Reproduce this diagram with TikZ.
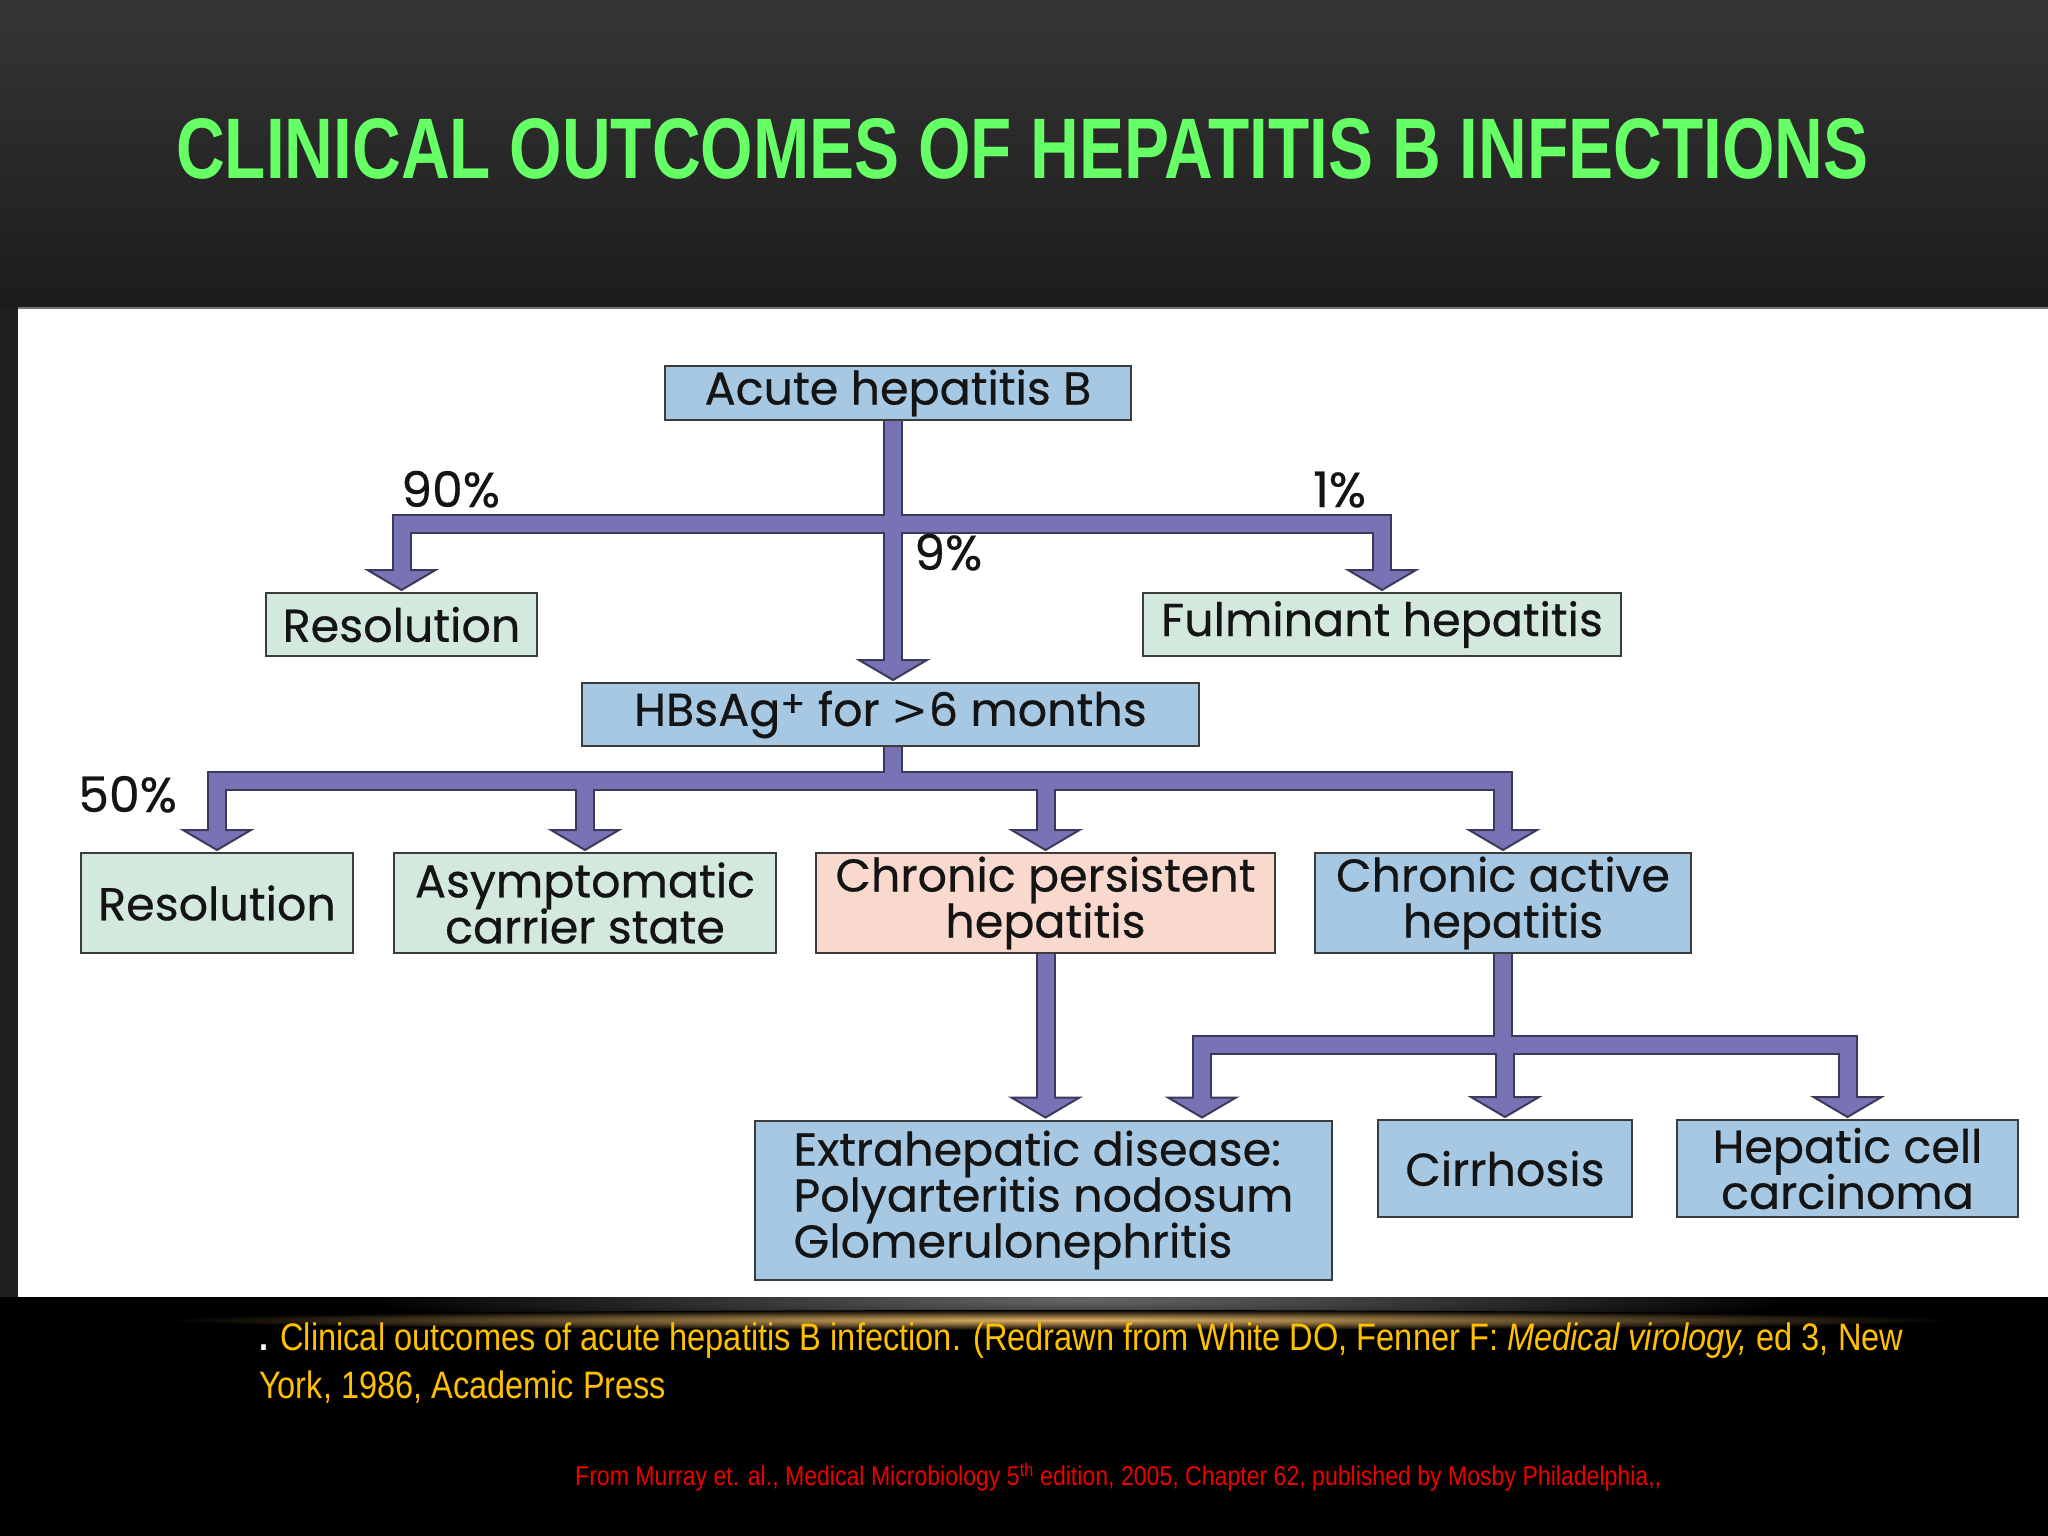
\documentclass[tikz,border=0pt]{standalone}
\usepackage{fontspec}
\usepackage{graphicx}
\usetikzlibrary{calc}
\newfontfamily\diagfont[FakeBold=0.5]{Poppins}
\newfontfamily\gtfont{DejaVu Sans}
\newfontfamily\narrowfont[FakeStretch=0.85]{Liberation Sans}
\newcommand\tightlines{\lineskiplimit -60pt\relax}
\definecolor{boxblue}{HTML}{A6C8E3}
\definecolor{boxgreen}{HTML}{D3E9DE}
\definecolor{boxpeach}{HTML}{F9D9CD}
\definecolor{boxline}{HTML}{3C3C3C}
\definecolor{flowfill}{HTML}{7873B5}
\definecolor{flowline}{HTML}{3B3A5C}
\definecolor{titlegreen}{HTML}{66FF66}
\definecolor{captiongold}{HTML}{FFC000}
\definecolor{creditred}{HTML}{EE0000}
\tikzset{
  diagbox/.style={draw=boxline, line width=2pt, inner sep=0pt, align=center,
    text=black!92, font=\diagfont\fontsize{46}{46}\selectfont\tightlines},
  bluebox/.style={diagbox, fill=boxblue},
  greenbox/.style={diagbox, fill=boxgreen},
  peachbox/.style={diagbox, fill=boxpeach},
  pctlabel/.style={anchor=base west, inner sep=0pt, text=black!92,
    font=\diagfont\fontsize{49}{44}\selectfont},
  outerpen/.style={draw=flowline, line width=20pt, line join=miter, line cap=butt},
  innerpen/.style={draw=flowfill, line width=16pt, line join=miter, line cap=butt},
  headsty/.style={fill=flowfill, draw=flowline, line width=2pt, line join=miter}
}
\newcommand\headat[1]{\filldraw[headsty] ($(#1)+(0,-2)$) -- ++(-34,-20) -- ++(68,0) -- cycle;}
\newcommand\flows[1]{%
  \draw[#1] (acute.south -| t1) -- ($(hbsin)+(0,-20)$);
  \draw[#1] ($(res1.north)+(0,-20)$) -- (res1.north |- t1) -- (ful.north |- t1) -- ($(ful.north)+(0,-20)$);
  \draw[#1] (hbs.south -| t1) -- (t2);
  \draw[#1] ($(res2.north)+(0,-20)$) -- (res2.north |- t2) -- (cah.north |- t2) -- ($(cah.north)+(0,-20)$);
  \draw[#1] (asy.north |- t2) -- ($(asy.north)+(0,-20)$);
  \draw[#1] (cph.north |- t2) -- ($(cph.north)+(0,-20)$);
  \draw[#1] (cph.south) -- ($(extin)+(0,-20)$);
  \draw[#1] (cah.south) -- (t3);
  \draw[#1] ($(extin2)+(0,-20)$) -- (e2) -- (hcc.north |- t3) -- ($(hcc.north)+(0,-20)$);
  \draw[#1] (cir.north |- t3) -- ($(cir.north)+(0,-20)$);
}
\begin{document}
\begin{tikzpicture}[x=1pt,y=-1pt]
\useasboundingbox (0,0) rectangle (2048,1536);
% backgrounds
\fill[black] (0,0) rectangle (2048,1536);
\fill[black!88] (0,308) rectangle (18,1297);
\shade[inner color=black!60, outer color=black] (1080,1300) ellipse (720 and 30);
\shade[inner color={rgb,255:red,225;green,178;blue,100}, outer color=black] (1060,1320) ellipse (900 and 10);
\shade[top color=black!79, bottom color=black!89] (0,0) rectangle (2048,308);
\fill[white] (18,308) rectangle (2048,1297);
\draw[black!55, line width=1.5pt] (18,308) -- (2048,308);

% title
\node[anchor=base west, inner sep=0pt, text=titlegreen] (title) at (176,178)
  {\resizebox{1692pt}{60pt}{\narrowfont\bfseries CLINICAL OUTCOMES OF HEPATITIS B INFECTIONS}};

% boxes
\node[bluebox, minimum width=466pt, minimum height=54pt] (acute) at (898,393) {Acute hepatitis B};
\node[greenbox, minimum width=271pt, minimum height=63pt] (res1) at (401.5,624.5) {Resolution};
\node[greenbox, minimum width=478pt, minimum height=63pt] (ful) at (1382,624.5) {Fulminant hepatitis};
\node[bluebox, minimum width=617pt, minimum height=63pt] (hbs) at (890.5,714.5) {HBsAg{\fontsize{52}{44}\selectfont\textsuperscript{+}} for {\gtfont\fontsize{44}{44}\selectfont >}6 months};
\node[greenbox, minimum width=272pt, minimum height=100pt] (res2) at (217,903) {Resolution};
\node[greenbox, minimum width=382pt, minimum height=100pt] (asy) at (585,903) {Asymptomatic\\carrier state};
\node[peachbox, minimum width=459pt, minimum height=100pt] (cph) at (1045.5,903) {Chronic persistent\\hepatitis};
\node[bluebox, minimum width=376pt, minimum height=100pt] (cah) at (1503,903) {Chronic active\\hepatitis};
\node[bluebox, minimum width=577pt, minimum height=159pt, align=left] (ext) at (1043.5,1200)
  {Extrahepatic disease:\\Polyarteritis nodosum\\Glomerulonephritis};
\node[bluebox, minimum width=254pt, minimum height=97pt] (cir) at (1505,1168.5) {Cirrhosis};
\node[bluebox, minimum width=341pt, minimum height=97pt] (hcc) at (1847.5,1168.5) {Hepatic cell\\carcinoma};

% junction coordinates
\coordinate (t1) at (893,524);
\coordinate (hbsin) at (t1 |- hbs.north);
\coordinate (t2) at (893,781);
\coordinate (extin) at (cph.south |- ext.north);
\coordinate (t3) at (1503,1045);
\coordinate (e2) at (1202,1045);
\coordinate (extin2) at (e2 |- ext.north);

% connectors
\flows{outerpen}
\headat{hbsin}
\headat{res1.north}
\headat{ful.north}
\headat{res2.north}
\headat{asy.north}
\headat{cph.north}
\headat{cah.north}
\headat{extin}
\headat{extin2}
\headat{cir.north}
\headat{hcc.north}
\flows{innerpen}

% percentages
\node[pctlabel] (p90) at (401,507) {90\%};
\node[pctlabel] (p1) at (1313,507) {1\%};
\node[pctlabel] (p9) at (914,570) {9\%};
\node[pctlabel] (p50) at (78,812) {50\%};

% captions
\node[anchor=base west, inner sep=0pt] (cap1) at (259,1350)
  {\resizebox{1644pt}{!}{\narrowfont\fontsize{36}{40}\selectfont\textcolor{white}{\bfseries .} \textcolor{captiongold}{Clinical outcomes of acute hepatitis B infection. (Redrawn from White DO, Fenner F: \textit{Medical virology,} ed 3, New}}};
\node[anchor=base west, inner sep=0pt, text=captiongold] (cap2) at (259,1398)
  {\resizebox{407pt}{!}{\narrowfont\fontsize{36}{40}\selectfont York, 1986, Academic Press}};
\node[anchor=base west, inner sep=0pt, text=creditred] (credit) at (575,1485)
  {\resizebox{1086pt}{!}{\narrowfont\fontsize{28}{30}\selectfont From Murray et. al., Medical Microbiology 5\textsuperscript{th} edition, 2005, Chapter 62, published by Mosby Philadelphia,,}};
\end{tikzpicture}
\end{document}
